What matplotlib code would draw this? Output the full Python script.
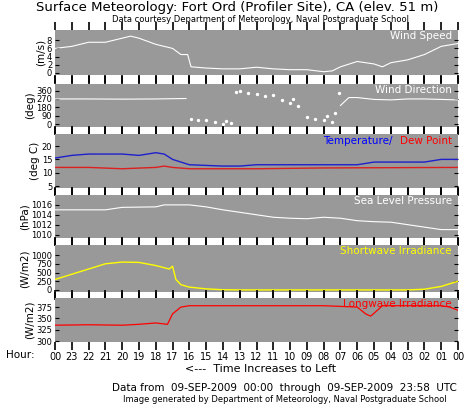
import numpy as np
import matplotlib.pyplot as plt

# hours (time increases to left)
ws_h = [24, 23, 22, 21, 20, 19.5, 19, 18, 17.5, 17, 16.5, 16.1, 15.9, 15, 14, 13, 12, 11, 10, 9, 8, 7.5, 7, 6, 5, 4.5, 4, 3, 2, 1, 0]
ws_v = [6, 6.5, 7.5, 7.5, 8.5, 9, 8.5, 7, 6.5, 6, 4.5, 4.5, 1.5, 1.2, 1.0, 1.0, 1.4, 1.0, 0.8, 0.8, 0.3, 0.5, 1.5, 2.8, 2.2, 1.5, 2.5, 3.2, 4.5, 6.5, 7.2]

wd_h = [24, 22, 20, 18, 16.2, 15.9, 15.5, 15, 14.5, 14, 13.8, 13.5, 13.2, 13, 12.5, 12, 11.5, 11, 10.5, 10, 9.8, 9.5, 9, 8.5, 8, 7.8, 7.5, 7.3, 7.1, 7, 6.5, 6, 5, 4, 3, 2, 1, 0]
wd_v = [270, 270, 268, 270, 275, 60, 45, 40, 20, 5, 30, 10, 340, 350, 330, 320, 300, 310, 260, 230, 270, 190, 80, 60, 50, 90, 20, 120, 330, 200, 285, 285, 265, 260, 270, 270, 265, 260]

t_h = [24, 23, 22, 20, 19, 18, 17.5, 17, 16.5, 16, 14, 13, 12, 8, 6, 5, 2, 1, 0]
t_v = [15.5, 16.5, 17, 17, 16.5, 17.5, 17, 15, 14, 13, 12.5, 12.5, 13, 13, 13, 14, 14, 15, 15]
td_h = [24, 22, 20, 18, 17.5, 17, 16, 12, 8, 0]
td_v = [12, 12, 11.5, 12, 12.5, 12, 11.5, 11.5, 11.8, 12]

p_h = [24, 21, 20, 18, 17.5, 16, 15, 14, 13, 12, 11, 10, 9, 8, 7, 6, 5, 4, 3, 2, 1, 0]
p_v = [1015, 1015, 1015.5, 1015.6, 1016, 1016, 1015.6, 1015, 1014.5, 1014, 1013.5, 1013.3, 1013.2, 1013.5, 1013.3, 1012.8, 1012.6, 1012.5, 1012, 1011.5, 1011, 1011]

sw_h = [24, 23, 22, 21, 20, 19, 18, 17.2, 17, 16.8, 16.5, 16, 15, 14, 13, 3, 2, 1, 0]
sw_v = [300, 450, 600, 750, 800, 790, 700, 600, 680, 300, 150, 80, 30, 5, 0, 0, 20, 100, 250]

lw_h = [24, 22, 20, 19, 18, 17.3, 17, 16.5, 16, 8, 6, 5.5, 5.2, 4.8, 4.5, 1, 0.5, 0]
lw_v = [335, 336, 335, 337, 340, 337, 360, 375, 378, 378, 375, 360, 355, 368, 378, 378, 375, 368]

hour_ticks = list(range(0, 25))
hour_labels = ["%02d" % (h % 24) for h in hour_ticks]

fig = plt.figure(figsize=(4.74, 4.05), dpi=100)
fig.patch.set_facecolor("white")
gray = "#999999"

# (top px, bottom px, ylim, yticks, ylabel, title, title color)
panels = [
    (30, 75, (-0.5, 10.5), [0, 2, 4, 6, 8], "(m/s)", "Wind Speed", "white"),
    (84, 127, (-30, 430), [0, 90, 180, 270, 360], "(deg)", "Wind Direction", "white"),
    (134, 188, (4.3, 24.5), [5, 10, 15, 20], "(deg C)", None, None),
    (195, 238, (1009.3, 1018), [1010, 1012, 1014, 1016], "(hPa)", "Sea Level Pressure", "white"),
    (245, 292, (-60, 1290), [0, 250, 500, 750, 1000], "(W/m2)", "Shortwave Irradiance", "yellow"),
    (298, 342, (298, 395), [300, 325, 350, 375], "(W/m2)", "Longwave Irradiance", "red"),
]
axes = []
for top, bot, ylim, yt, ylab, title, tc in panels:
    ax = fig.add_axes([55/474, 1 - bot/405, 403/474, (bot - top)/405])
    ax.set_facecolor(gray)
    ax.set_xlim(24, 0)
    ax.set_ylim(*ylim)
    ax.set_yticks(yt)
    ax.set_xticks(hour_ticks)
    ax.set_xticklabels([])
    ax.tick_params(axis="x", direction="out", length=6, width=1.2, top=True)
    ax.tick_params(axis="y", direction="in", length=3, right=True, labelsize=6, pad=2)
    for s in ax.spines.values():
        s.set_visible(False)
    ax.set_ylabel(ylab, fontsize=7.5, labelpad=1)
    if title:
        ax.text(0.985, 0.97, title, transform=ax.transAxes, ha="right", va="top", color=tc, fontsize=7.5)
    axes.append(ax)

axes[0].plot(ws_h, ws_v, color="white", lw=0.8)
axes[1].plot(wd_h[:5], wd_v[:5], color="white", lw=0.8)
axes[1].plot(wd_h[29:], wd_v[29:], color="white", lw=0.8)
axes[1].scatter(wd_h[5:29], wd_v[5:29], color="white", s=2)
axes[2].plot(t_h, t_v, color="#1f1fcc", lw=1)
axes[2].plot(td_h, td_v, color="#dd1f1f", lw=1)
axes[2].text(0.985, 0.97, "Dew Point", transform=axes[2].transAxes, ha="right", va="top", color="red", fontsize=7.5)
axes[2].text(0.838, 0.97, "Temperature/", transform=axes[2].transAxes, ha="right", va="top", color="blue", fontsize=7.5)
axes[3].plot(p_h, p_v, color="white", lw=0.8)
axes[4].plot(sw_h, sw_v, color="yellow", lw=1)
axes[5].plot(lw_h, lw_v, color="red", lw=0.9)

axes[5].set_xticklabels(hour_labels, fontsize=7)
axes[5].tick_params(axis="x", pad=1)
fig.text(6/474, 1 - 355/405, "Hour:", fontsize=7.5, va="center")

fig.text(0.5, 1 - 7/405, "Surface Meteorology: Fort Ord (Profiler Site), CA (elev. 51 m)", ha="center", va="center", fontsize=9.5)
fig.text(0.55, 1 - 19/405, "Data courtesy Department of Meteorology, Naval Postgraduate School", ha="center", va="center", fontsize=6)
fig.text(0.55, 1 - 369/405, "<---  Time Increases to Left", ha="center", va="center", fontsize=8)
fig.text(0.6, 1 - 388/405, "Data from  09-SEP-2009  00:00  through  09-SEP-2009  23:58  UTC", ha="center", va="center", fontsize=7.5)
fig.text(0.6, 1 - 399/405, "Image generated by Department of Meteorology, Naval Postgraduate School", ha="center", va="center", fontsize=6)

fig.savefig("out.png", dpi=100)
